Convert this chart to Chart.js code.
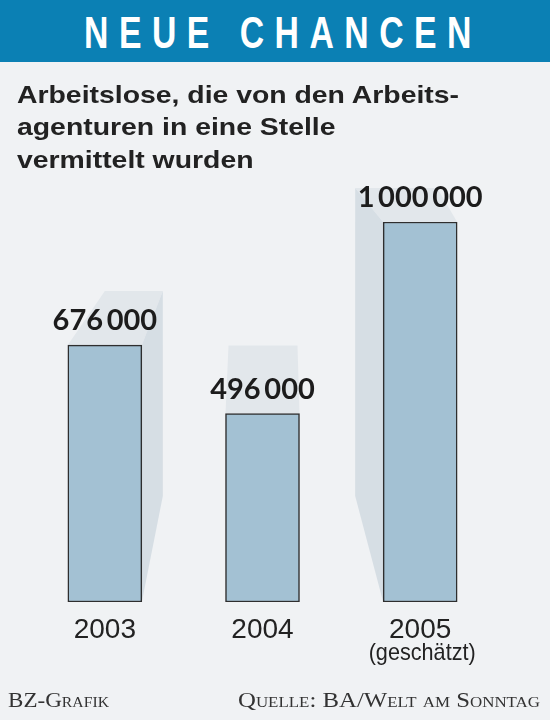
<!DOCTYPE html>
<html>
<head>
<meta charset="utf-8">
<script src="https://cdn.jsdelivr.net/npm/chart.js@4.4.1/dist/chart.umd.min.js"></script>
<style>
  html, body { margin:0; padding:0; }
  body { width:550px; height:720px; background:#f0f2f4; position:relative; overflow:hidden; }
  #header { position:absolute; left:0; top:0; width:550px; height:62px; background:#0b80b4; }
  #htxt { position:absolute; left:84px; top:7.5px; white-space:nowrap; color:#fff;
          font-family:"Liberation Sans Narrow","Liberation Sans",sans-serif; font-weight:bold;
          font-size:45px; line-height:50px; letter-spacing:14px; transform-origin:0 0; }
  #title { position:absolute; left:17px; top:78.5px; color:#222; white-space:nowrap;
           font-family:"Liberation Sans",sans-serif; font-weight:bold; font-size:24px; line-height:32.5px; }
  #title div { transform-origin:0 0; }
  .foot { position:absolute; top:689px; color:#333; white-space:nowrap;
          font-family:"Liberation Serif",serif; font-size:22px; line-height:22px; font-variant:small-caps; }
  #c { position:absolute; left:0; top:0; }
</style>
</head>
<body>
<div id="header"><div id="htxt" data-w="398">NEUE CHANCEN</div></div>
<canvas id="c" width="550" height="720"></canvas>
<div id="title">
  <div data-w="442">Arbeitslose, die von den Arbeits-</div>
  <div>agenturen in eine Stelle</div>
  <div>vermittelt wurden</div>
</div>
<div class="foot" id="f1" style="left:8px" data-w="101">BZ-Grafik</div>
<div class="foot" id="f2" style="left:238px" data-w="302">Quelle: BA/Welt am Sonntag</div>
<script>
// ---- data ----
const years = ['2003', '2004', '2005'];
const yearNotes = ['', '', '(geschätzt)'];
const placed = [676000, 496000, 1000000];

// ---- fit text widths ----
let titleScale = 1;
document.querySelectorAll('[data-w]').forEach(el => {
  el.style.display = 'inline-block';
  const w = el.getBoundingClientRect().width;
  const s = (+el.dataset.w) / w;
  el.style.transform = 'scaleX(' + s + ')';
  el.style.transformOrigin = '0 0';
  if (el.parentNode.id === 'title') titleScale = s;
});
document.querySelectorAll('#title div').forEach(el => {
  el.style.transform = 'scaleX(' + titleScale + ')';
});

function fmt(v) {
  return String(v).replace(/\B(?=(\d{3})+(?!\d))/g, '\u2009');
}

const shadowPlugin = {
  id: 'shadows',
  beforeDatasetsDraw(chart) {
    const ctx = chart.ctx;
    const meta = chart.getDatasetMeta(0);
    const light = '#e2e7eb', dark = '#d6dee4';
    meta.data.forEach((el, i) => {
      const p = el.getProps(['x', 'y', 'base', 'width'], true);
      const L = p.x - p.width / 2, R = p.x + p.width / 2, T = p.y, B = p.base;
      ctx.save();
      if (i === 0) {
        ctx.fillStyle = light;
        ctx.beginPath();
        ctx.moveTo(L, T); ctx.lineTo(L + 37, T - 54); ctx.lineTo(R + 21, T - 54); ctx.lineTo(R, T);
        ctx.closePath(); ctx.fill();
        ctx.fillStyle = dark;
        ctx.beginPath();
        ctx.moveTo(R, T); ctx.lineTo(R + 21, T - 54); ctx.lineTo(R + 21, B - 106); ctx.lineTo(R, B);
        ctx.closePath(); ctx.fill();
      } else if (i === 1) {
        ctx.fillStyle = light;
        ctx.beginPath();
        ctx.moveTo(L, T); ctx.lineTo(L + 3, T - 68); ctx.lineTo(R - 2, T - 68); ctx.lineTo(R, T);
        ctx.closePath(); ctx.fill();
      } else {
        ctx.fillStyle = light;
        ctx.beginPath();
        ctx.moveTo(L, T); ctx.lineTo(L - 28, T - 34); ctx.lineTo(R - 20, T - 34); ctx.lineTo(R, T);
        ctx.closePath(); ctx.fill();
        ctx.fillStyle = dark;
        ctx.beginPath();
        ctx.moveTo(L, T); ctx.lineTo(L - 28, T - 34); ctx.lineTo(L - 28, B - 106); ctx.lineTo(L, B);
        ctx.closePath(); ctx.fill();
      }
      ctx.restore();
    });
  }
};

const labelPlugin = {
  id: 'labels',
  afterDatasetsDraw(chart) {
    const ctx = chart.ctx;
    const meta = chart.getDatasetMeta(0);
    ctx.save();
    ctx.font = 'bold 29px Lato, "Open Sans", sans-serif';
    ctx.fillStyle = '#1c1c1c';
    ctx.textAlign = 'center';
    ctx.textBaseline = 'alphabetic';
    meta.data.forEach((el, i) => {
      const p = el.getProps(['x', 'y'], true);
      ctx.fillText(fmt(placed[i]), p.x, p.y - 15);
    });
    // sub-notes under tick labels
    const xs = chart.scales.x;
    ctx.font = '24px "Liberation Sans Narrow", "Liberation Sans", sans-serif';
    ctx.fillStyle = '#222';
    yearNotes.forEach((n, i) => {
      if (!n) return;
      const w = ctx.measureText(n).width;
      const cx = xs.getPixelForValue(i) + 2;
      ctx.save();
      ctx.translate(cx, 660);
      ctx.scale(107 / w, 1);
      ctx.fillText(n, 0, 0);
      ctx.restore();
    });
    ctx.restore();
  }
};

new Chart(document.getElementById('c'), {
  type: 'bar',
  data: {
    labels: years,
    datasets: [{
      data: placed,
      backgroundColor: '#a3c1d3',
      borderColor: '#2e2e2e',
      borderWidth: 1.5,
      borderSkipped: false,
      barThickness: 74
    }]
  },
  options: {
    responsive: false,
    animation: false,
    devicePixelRatio: 1,
    layout: { padding: { left: 26, right: 51, top: 222, bottom: 0 } },
    plugins: { legend: { display: false }, tooltip: { enabled: false } },
    scales: {
      y: { display: false, min: 0, max: 1000000 },
      x: {
        grid: { display: false, drawTicks: false },
        border: { display: false },
        ticks: { color: '#222', font: { family: '"Liberation Sans", sans-serif', size: 28 }, padding: 11 },
        afterFit(scale) { scale.height = 118; }
      }
    }
  },
  plugins: [shadowPlugin, labelPlugin]
});
</script>
</body>
</html>
